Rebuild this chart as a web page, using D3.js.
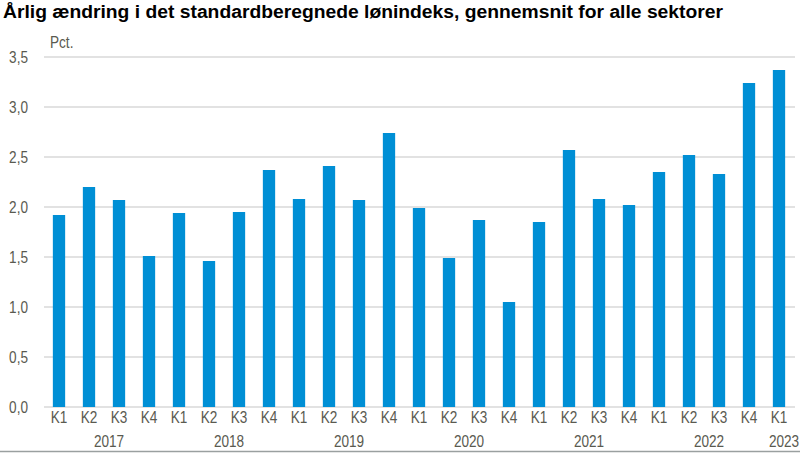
<!DOCTYPE html>
<html>
<head>
<meta charset="utf-8">
<script src="https://cdn.jsdelivr.net/npm/d3@7"></script>
<style>
  body { margin: 0; background: #fff; }
  svg { display: block; }
</style>
</head>
<body>
<div id="chart"></div>
<script>
var title = "Årlig ændring i det standardberegnede lønindeks, gennemsnit for alle sektorer";
var unitLabel = "Pct.";
var years = ["2017", "2018", "2019", "2020", "2021", "2022", "2023"];
var quarters = ["K1", "K2", "K3", "K4"];
// one value per quarter, 2017 K1 .. 2023 K1
var values = [1.92, 2.20, 2.07, 1.51,
              1.94, 1.46, 1.95, 2.37,
              2.08, 2.41, 2.07, 2.74,
              1.99, 1.49, 1.87, 1.05,
              1.85, 2.57, 2.08, 2.02,
              2.35, 2.52, 2.33, 3.24,
              3.37];
var yTicks = [0, 0.5, 1, 1.5, 2, 2.5, 3, 3.5];

var width = 800, height = 456;
var margin = {top: 57, right: 6, bottom: 49, left: 44};
var labelFont = "'Liberation Sans', Arial, sans-serif";
var textColor = "#5a5a50";
var squeeze = 0.8;   // labels in the original use a narrow face

// build period list
var periods = [];
values.forEach(function (v, i) {
    periods.push({
        id: i,
        year: years[Math.floor(i / 4)],
        q: quarters[i % 4],
        value: v
    });
});

var svg = d3.select("#chart").append("svg")
    .attr("width", width)
    .attr("height", height);

var x = d3.scaleBand()
    .domain(periods.map(function (d) { return d.id; }))
    .range([margin.left, width - margin.right])
    .paddingInner(0.59)
    .paddingOuter(0.295);

var y = d3.scaleLinear()
    .domain([0, 3.5])
    .range([height - margin.bottom, margin.top]);

var fmt = function (v) { return d3.format(".1f")(v).replace(".", ","); };

var place = function (px, py) {
    return "translate(" + px + "," + py + ") scale(" + squeeze + ",1)";
};

var label = function (sel) {
    sel.style("font-family", labelFont)
        .style("font-size", "17px")
        .style("fill", textColor);
};

// gridlines
svg.append("g").selectAll("line")
    .data(yTicks)
    .enter().append("line")
    .attr("x1", margin.left)
    .attr("x2", width - margin.right + 1)
    .attr("y1", function (d) { return y(d); })
    .attr("y2", function (d) { return y(d); })
    .style("stroke", "#d9d9d9")
    .style("stroke-width", 1.5);

// y labels
svg.append("g").selectAll("text")
    .data(yTicks)
    .enter().append("text")
    .attr("transform", function (d) { return place(28, y(d)); })
    .attr("dy", "0.33em")
    .attr("text-anchor", "end")
    .call(label)
    .text(fmt);

svg.append("text")
    .attr("transform", place(50, 48))
    .call(label)
    .text(unitLabel);

// bars
svg.append("g").selectAll("rect")
    .data(periods)
    .enter().append("rect")
    .attr("x", function (d) { return x(d.id); })
    .attr("width", x.bandwidth())
    .attr("y", function (d) { return y(d.value); })
    .attr("height", function (d) { return y(0) - y(d.value); })
    .style("fill", "#008fd5");

// quarter labels
svg.append("g").selectAll("text")
    .data(periods)
    .enter().append("text")
    .attr("transform", function (d) { return place(x(d.id) + x.bandwidth() / 2, 423); })
    .attr("text-anchor", "middle")
    .call(label)
    .text(function (d) { return d.q; });

// year labels
var yearPos = years.map(function (yr) {
    var ps = periods.filter(function (p) { return p.year === yr; });
    var c = d3.mean(ps, function (p) { return x(p.id) + x.bandwidth() / 2; });
    return {year: yr, cx: c + 5};
});

svg.append("g").selectAll("text")
    .data(yearPos)
    .enter().append("text")
    .attr("transform", function (d) { return place(d.cx, 447); })
    .attr("text-anchor", "middle")
    .call(label)
    .text(function (d) { return d.year; });

// bottom frame line
svg.append("line")
    .attr("x1", 0).attr("x2", width)
    .attr("y1", 451.5).attr("y2", 451.5)
    .style("stroke", "#9aa0a0")
    .style("stroke-width", 1.5);

// title
svg.append("text")
    .attr("x", 3)
    .attr("y", 18)
    .attr("textLength", 720)
    .attr("lengthAdjust", "spacingAndGlyphs")
    .style("font-family", "'Liberation Sans', Arial, sans-serif")
    .style("font-weight", "bold")
    .style("font-size", "17.5px")
    .style("fill", "#000")
    .text(title);
</script>
</body>
</html>
